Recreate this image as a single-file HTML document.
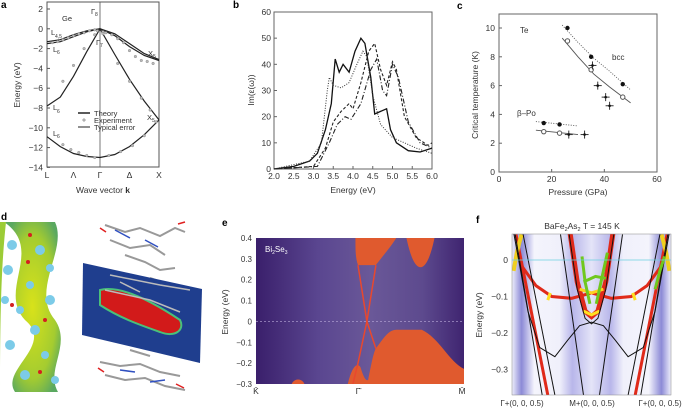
<!DOCTYPE html>
<html><head><meta charset="utf-8"><style>
html,body{margin:0;padding:0;background:#fff}
svg{display:block;font-family:"Liberation Sans",sans-serif}
</style></head><body>
<svg id="s" width="685" height="409" viewBox="0 0 685 409">
<defs>
<linearGradient id="ebg" x1="0" x2="1" y1="0" y2="0">
<stop offset="0" stop-color="#3a1f6b"/><stop offset="0.3" stop-color="#5a4690"/><stop offset="0.55" stop-color="#6a5898"/><stop offset="0.8" stop-color="#5d4a8e"/><stop offset="1" stop-color="#3f2470"/></linearGradient>
<linearGradient id="fbg" x1="0" x2="1" y1="0" y2="0">
<stop offset="0" stop-color="#eeeefb"/><stop offset="0.06" stop-color="#8c8ad6"/><stop offset="0.14" stop-color="#f4f4fc"/><stop offset="0.3" stop-color="#f0f0fb"/><stop offset="0.38" stop-color="#b8b6ea"/><stop offset="0.5" stop-color="#e4e4f8"/><stop offset="0.62" stop-color="#b8b6ea"/><stop offset="0.7" stop-color="#f0f0fb"/><stop offset="0.86" stop-color="#f4f4fc"/><stop offset="0.94" stop-color="#8c8ad6"/><stop offset="1" stop-color="#eeeefb"/></linearGradient>
<radialGradient id="hel" cx="0.5" cy="0.5" r="0.6"><stop offset="0" stop-color="#d8e21a"/><stop offset="0.7" stop-color="#a4cc30"/><stop offset="1" stop-color="#5aa860"/></radialGradient>
<clipPath id="ce"><rect x="256" y="238" width="208" height="146"/></clipPath>
<clipPath id="cf"><rect x="512" y="234" width="159" height="161"/></clipPath>
</defs>
<g id="pa"></g>
<g id="pb"></g>
<g id="pc"></g>
<g id="pd">
<text x="1" y="220" font-size="10" font-weight="bold">d</text>
<path d="M4,222 C45,250 -3,290 25,320 C55,345 0,370 15,392 L58,392 C45,370 72,345 55,320 C30,290 68,250 55,222 Z" fill="url(#hel)"/>
<path d="M0,222 L6,222 C2,260 0,300 0,392Z" fill="#9ccc36"/>
<g fill="#7ccbe8">
<circle cx="12" cy="245" r="5"/><circle cx="40" cy="250" r="5"/><circle cx="8" cy="270" r="5"/><circle cx="30" cy="285" r="4"/><circle cx="50" cy="300" r="5"/><circle cx="20" cy="310" r="4"/><circle cx="35" cy="330" r="5"/><circle cx="10" cy="345" r="5"/><circle cx="45" cy="355" r="4"/><circle cx="25" cy="375" r="5"/><circle cx="50" cy="268" r="4"/><circle cx="5" cy="300" r="4"/><circle cx="55" cy="380" r="4"/></g>
<g fill="#d42020"><circle cx="28" cy="262" r="2"/><circle cx="12" cy="305" r="2"/><circle cx="40" cy="372" r="2"/><circle cx="30" cy="235" r="2"/><circle cx="45" cy="320" r="2"/></g>
<g stroke="#999" stroke-width="2" fill="none">
<path d="M105,225 L125,232 L140,228 L160,236 L175,228 L185,232 M110,240 L130,248 L150,245 L165,255 M125,255 L145,262 L160,270 L175,268 M150,278 L170,285"/>
<path d="M100,362 L120,366 L140,364 L160,372 L180,376 M105,375 L125,380 L145,378 L165,386 L185,390 M130,350 L150,356"/></g>
<g stroke="#3050c0" stroke-width="1.5" fill="none"><path d="M115,230 L130,238 M145,240 L158,247 M120,370 L135,372 M150,382 L165,380"/></g>
<g stroke="#e02020" stroke-width="1.5" fill="none"><path d="M100,228 L106,232 M178,224 L185,222 M98,368 L104,372 M176,384 L184,388"/></g>
<polygon points="83,263 202,289 200,363 82,335" fill="#1f3e8e"/>
<path d="M100,290 C120,285 150,300 180,320 C185,330 175,338 160,332 C140,325 120,318 100,305 Z" fill="#d21a1a" stroke="#4ac07a" stroke-width="2"/>
<g stroke="#bbb" stroke-width="1.5" fill="none"><path d="M110,275 L160,285 L190,290 M105,290 L150,300 L180,312 M120,282 L140,292"/></g>
</g>
<g id="pe"></g>
<g id="pf"></g>
</svg>
<script>
const NS="http://www.w3.org/2000/svg";
function mk(p,t,a,txt){const e=document.createElementNS(NS,t);for(const k in a)e.setAttribute(k,a[k]);if(txt!==undefined)e.textContent=txt;p.appendChild(e);return e;}
function pth(xs,ys,fx,fy){return xs.map((x,i)=>(i?'L':'M')+fx(x).toFixed(1)+','+fy(ys[i]).toFixed(1)).join('');}
// ---------- Panel a data ----------
const aK=[0,0.25,0.5,0.75,1,1.25,1.5,1.75,2];
const aBand1=[-10.9,-11.9,-12.6,-12.9,-13,-12.7,-11.9,-10.7,-9.2];
const aBand2=[-7.8,-6.9,-4.8,-2.3,0,-2.6,-5.1,-7.3,-9.2];
const aBand3=[-1.5,-1.3,-0.8,-0.3,0,-0.7,-1.8,-2.7,-3.2];
const aBand4=[-1.3,-1.1,-0.6,-0.2,0,-0.5,-1.5,-2.5,-3.1];
const aExpK=[0.1,0.2,0.3,0.4,0.5,0.6,0.7,0.8,0.9,0.95,1.05,1.1,1.2,1.3,1.4,1.5,1.6,1.7,1.8,1.9,0.3,0.45,0.6,0.75,0.9,1.15,1.35,1.55,1.75,1.95,0.3,0.5,0.7,0.9,1.05,1.3,1.5,1.7,1.85];
const aExpE=[-1.4,-1.3,-1.1,-0.9,-0.7,-0.5,-0.4,-0.2,-0.1,-0.2,-0.3,-0.4,-0.6,-1.0,-1.4,-2.2,-2.8,-3.2,-3.3,-3.5,-11.7,-12.2,-12.5,-12.8,-13,-12.8,-12.4,-11.8,-10.8,-9.4,-5.3,-3.7,-2.0,-0.6,-0.5,-3.5,-5.3,-7.0,-8.2];
const aTicks=[2,0,-2,-4,-6,-8,-10,-12,-14];
const aKlab=['L','Λ','Γ','Δ','X'];
(function(){const g=document.getElementById('pa');
const X=k=>k<=1?47+53*k:100+59*(k-1), Y=e=>9+(2-e)*9.9;
mk(g,'text',{x:1,y:8,'font-size':10,'font-weight':'bold'},'a');
mk(g,'rect',{x:47,y:2,width:112,height:165,fill:'none',stroke:'#555'});
mk(g,'line',{x1:100,x2:100,y1:2,y2:167,stroke:'#555','stroke-width':0.8});
aTicks.forEach(t=>{const l=mk(g,'text',{x:43,y:Y(t)+3,'font-size':8.5,'text-anchor':'end',fill:'#333'},t<0?'−'+(-t):t);


mk(g,'line',{x1:47,x2:50,y1:Y(t),y2:Y(t),stroke:'#555'});});
aKlab.forEach((s,i)=>{mk(g,'text',{x:X(i*0.5),y:178,'font-size':8.5,'text-anchor':'middle',fill:'#333'},s);});
const xt=mk(g,'text',{x:103,y:193,'font-size':8.5,'text-anchor':'middle',fill:'#333'},'Wave vector ');
mk(xt,'tspan',{'font-weight':'bold'},'k');


const yt=mk(g,'text',{x:0,y:0,'font-size':8.5,'text-anchor':'middle',fill:'#333',transform:'translate(20,85) rotate(-90)'},'Energy (eV)');


[aBand1,aBand2,aBand3,aBand4].forEach((b,i)=>{const p=mk(g,'path',{d:pth(aK,b,X,Y),fill:'none',stroke:'#222','stroke-width':1.2});

});
aExpK.forEach((k,i)=>{const c=mk(g,'circle',{cx:X(k),cy:Y(aExpE[i]),r:1.3,fill:'#bbb',stroke:'#777','stroke-width':0.4});

});
[['Ge',62,21,7.5],['Γ',91,14,7.5],['8',95,16,5],['L',51,35,7.5],['4,5',55,38,5],['Γ',96,45,7.5],['7',100,47,5],['L',53,52,7.5],['6',57,54,5],['X',148,56,7.5],['5',153,58,5],['L',53,110,7.5],['6',57,113,5],['X',147,120,7.5],['5',152,122,5],['L',53,136,7.5],['6',57,138,5]].forEach(t=>mk(g,'text',{x:t[1],y:t[2],'font-size':t[3],fill:'#333'},t[0]));
mk(g,'line',{x1:78,x2:90,y1:113,y2:113,stroke:'#222','stroke-width':1.5});
mk(g,'text',{x:94,y:116,'font-size':7.5,fill:'#333'},'Theory');
mk(g,'circle',{cx:84,cy:120,r:1.3,fill:'#bbb',stroke:'#777','stroke-width':0.4});
mk(g,'text',{x:94,y:123,'font-size':7.5,fill:'#333'},'Experiment');
mk(g,'line',{x1:78,x2:90,y1:127,y2:127,stroke:'#222'});
mk(g,'text',{x:94,y:130,'font-size':7.5,fill:'#333'},'Typical error');
})();
// ---------- Panel b data ----------
const bSolidX=[2.0,2.5,2.9,3.1,3.3,3.45,3.55,3.65,3.75,3.9,4.05,4.2,4.3,4.45,4.55,4.7,4.85,4.95,5.1,5.4,5.7,6.0];
const bSolidY=[0,1,3,6,15,25,42,37,40,37,45,50,48,35,21,22,23,15,10,7,6.5,8];
const bDotX=[2.0,2.9,3.2,3.35,3.4,3.5,3.7,3.9,4.1,4.25,4.35,4.5,4.7,5.0,5.3,5.6,6.0];
const bDotY=[0,3,10,30,35,32,31,33,40,45,43,28,17,12,10,8,6];
const bDashX=[2.0,3.0,3.3,3.5,3.7,3.9,4.0,4.2,4.4,4.55,4.7,4.85,5.0,5.1,5.3,5.6,5.9,6.0];
const bDashY=[0,1,8,18,22,25,23,33,45,48,38,32,41,38,20,12,9,10];
const bDDX=[2.0,3.1,3.4,3.6,3.8,3.95,4.2,4.45,4.6,4.75,4.85,5.0,5.15,5.4,5.7,6.0];
const bDDY=[0,1,10,17,20,19,25,38,42,30,28,40,35,18,10,8];
const bYT=[0,10,20,30,40,50,60];
const bXT=['2.0','2.5','3.0','3.5','4.0','4.5','5.0','5.5','6.0'];
(function(){const g=document.getElementById('pb');
const X=e=>274+(e-2)*39.5, Y=v=>169-v*2.617;
mk(g,'text',{x:233,y:8,'font-size':10,'font-weight':'bold'},'b');
mk(g,'rect',{x:274,y:12,width:158,height:157,fill:'none',stroke:'#666'});
bYT.forEach(t=>{mk(g,'text',{x:271,y:Y(t)+3,'font-size':8.5,'text-anchor':'end',fill:'#333'},t);mk(g,'line',{x1:274,x2:277,y1:Y(t),y2:Y(t),stroke:'#666'});});
bXT.forEach(t=>{mk(g,'text',{x:X(+t),y:179,'font-size':8.5,'text-anchor':'middle',fill:'#333'},t);mk(g,'line',{x1:X(+t),x2:X(+t),y1:169,y2:166,stroke:'#666'});});
const xt=mk(g,'text',{x:353,y:193,'font-size':8.5,'text-anchor':'middle',fill:'#333'},'Energy (eV)');


const yt=mk(g,'text',{x:0,y:0,'font-size':8.5,'text-anchor':'middle',fill:'#333',transform:'translate(254,90) rotate(-90)'},'Im(ε(ω))');


const S=[[bSolidX,bSolidY,'',1.3,'#111'],[bDotX,bDotY,'1,1.5',1,'#333'],[bDashX,bDashY,'3,2',1.1,'#222'],[bDDX,bDDY,'5,2,1,2',1.1,'#222']];
S.forEach((s,i)=>{const p=mk(g,'path',{d:pth(s[0],s[1],X,Y),fill:'none',stroke:s[4],'stroke-width':s[3],'stroke-dasharray':s[2]});

});
})();
// ---------- Panel c data ----------
const cFilledP=[26,35,47,17,23];
const cFilledT=[10,8,6.1,3.4,3.3];
const cOpenP=[26,35,47,17,23];
const cOpenT=[9.1,7.1,5.2,2.8,2.7];
const cErrP=[35.5,37.5,40.5,42,26.5,32.5];
const cErrT=[7.4,6.0,5.2,4.6,2.6,2.6];
const cFitBccDotP=[24,30,36,42,50];const cFitBccDotT=[10.2,9.0,7.9,7.0,5.7];
const cFitBccP=[24,30,36,42,50];const cFitBccT=[9.3,8.0,6.8,5.9,4.8];
const cFitBpDotP=[14,30];const cFitBpDotT=[3.5,3.2];
const cFitBpP=[14,30];const cFitBpT=[2.9,2.6];
const cXT=[0,20,40,60];const cYT=[0,2,4,6,8,10];
(function(){const g=document.getElementById('pc');
const X=p=>499+p*2.633, Y=t=>172-t*14.4;
mk(g,'text',{x:457,y:9,'font-size':10,'font-weight':'bold'},'c');
mk(g,'rect',{x:499,y:14,width:158,height:158,fill:'none',stroke:'#666'});
cYT.forEach(t=>{mk(g,'text',{x:495,y:Y(t)+3,'font-size':8.5,'text-anchor':'end',fill:'#333'},t);mk(g,'line',{x1:499,x2:502,y1:Y(t),y2:Y(t),stroke:'#666'});});
cXT.forEach(t=>{mk(g,'text',{x:X(t),y:182,'font-size':8.5,'text-anchor':'middle',fill:'#333'},t);mk(g,'line',{x1:X(t),x2:X(t),y1:172,y2:169,stroke:'#666'});});
const xt=mk(g,'text',{x:578,y:195,'font-size':8.5,'text-anchor':'middle',fill:'#333'},'Pressure (GPa)');


const yt=mk(g,'text',{x:0,y:0,'font-size':8.5,'text-anchor':'middle',fill:'#333',transform:'translate(478,95) rotate(-90)'},'Critical temperature (K)');


mk(g,'text',{x:520,y:33,'font-size':8,fill:'#333'},'Te');
mk(g,'text',{x:612,y:60,'font-size':8,fill:'#333'},'bcc');
mk(g,'text',{x:517,y:116,'font-size':8,fill:'#333'},'β–Po');
[[cFitBccDotP,cFitBccDotT,'1,1.5'],[cFitBccP,cFitBccT,''],[cFitBpDotP,cFitBpDotT,'1,1.5'],[cFitBpP,cFitBpT,'']].forEach(f=>{const p=mk(g,'path',{d:pth(f[0],f[1],X,Y),fill:'none',stroke:'#555','stroke-width':0.9,'stroke-dasharray':f[2]});

});
cFilledP.forEach((p,i)=>{const c=mk(g,'circle',{cx:X(p),cy:Y(cFilledT[i]),r:2.2,fill:'#111'});

});
cOpenP.forEach((p,i)=>{const c=mk(g,'circle',{cx:X(p),cy:Y(cOpenT[i]),r:2.2,fill:'#fff',stroke:'#555'});

});
cErrP.forEach((p,i)=>{const x=X(p),y=Y(cErrT[i]);mk(g,'line',{x1:x-4,x2:x+4,y1:y,y2:y,stroke:'#333'});mk(g,'line',{x1:x,x2:x,y1:y-4,y2:y+4,stroke:'#333'});
const c=mk(g,'circle',{cx:x,cy:y,r:1.3,fill:'#111'});

});
})();
// ---------- Panel e data ----------
const eYT=['0.4','0.3','0.2','0.1','0','−0.1','−0.2','−0.3'];
const eYV=[0.4,0.3,0.2,0.1,0,-0.1,-0.2,-0.3];
const eSurfK=[0,0.035,0.07];
const eSurfE1=[0.27,0,-0.13];
const eSurfK2=[0.07,0.035,0.0,-0.02];
const eSurfE2=[0.27,0,-0.2,-0.3];
(function(){const g=document.getElementById('pe');
const X=k=>358+k*255, Y=e=>238+(0.4-e)*208.6;
mk(g,'text',{x:222,y:226,'font-size':10,'font-weight':'bold'},'e');
mk(g,'rect',{x:256,y:238,width:208,height:146,fill:'url(#ebg)'});
const c=mk(g,'g',{'clip-path':'url(#ce)'});
const o='#e05a2e';
mk(c,'path',{d:`M${X(-0.01)},238 L${X(0.15)},238 C${X(0.12)},250 ${X(0.09)},258 ${X(0.07)},${Y(0.27)} L${X(0)},${Y(0.27)} C${X(-0.01)},258 ${X(-0.01)},250 ${X(-0.01)},238Z`,fill:o});
mk(c,'path',{d:`M${X(0.19)},238 L${X(0.3)},238 C${X(0.28)},262 ${X(0.26)},${Y(0.26)} ${X(0.245)},${Y(0.26)} C${X(0.23)},${Y(0.26)} ${X(0.21)},262 ${X(0.19)},238Z`,fill:o});
mk(c,'path',{d:`M${X(-0.04)},384 C${X(-0.02)},${Y(-0.2)} ${X(0)},${Y(-0.2)} ${X(0.01)},${Y(-0.22)} C${X(0.02)},${Y(-0.26)} ${X(0.03)},${Y(-0.29)} ${X(0.04)},${Y(-0.28)} C${X(0.05)},${Y(-0.22)} ${X(0.06)},${Y(-0.15)} ${X(0.07)},${Y(-0.13)} C${X(0.1)},${Y(-0.08)} ${X(0.12)},${Y(-0.04)} ${X(0.15)},${Y(-0.04)} L${X(0.25)},${Y(-0.04)} C${X(0.32)},${Y(-0.08)} ${X(0.36)},${Y(-0.2)} ${X(0.42)},${Y(-0.23)} L464,384Z`,fill:o});
mk(c,'path',{d:`M${X(-0.26)},384 C${X(-0.25)},378 ${X(-0.22)},378 ${X(-0.21)},384Z`,fill:o});
[[eSurfK,eSurfE1],[eSurfK2,eSurfE2]].forEach(s=>{const p=mk(c,'path',{d:pth(s[0],s[1],X,Y),fill:'none',stroke:'#e8482e','stroke-width':1.5});

});
mk(g,'line',{x1:256,x2:464,y1:Y(0),y2:Y(0),stroke:'#b8a8d8','stroke-width':0.6,'stroke-dasharray':'2,2'});
eYV.forEach((v,i)=>mk(g,'text',{x:252,y:Y(v)+3,'font-size':8,'text-anchor':'end',fill:'#333'},eYT[i]));
const lab=mk(g,'text',{x:265,y:252,'font-size':8,fill:'#fff'},'Bi');
mk(lab,'tspan',{'font-size':5,dy:2},'2');
mk(lab,'tspan',{'font-size':8,dy:-2},'Se');
mk(lab,'tspan',{'font-size':5,dy:2},'3');
[['K̄',256],['Γ̄',358],['M̄',462]].forEach(t=>mk(g,'text',{x:t[1],y:394,'font-size':8.5,'text-anchor':'middle',fill:'#333'},t[0]));
const yt=mk(g,'text',{x:0,y:0,'font-size':8.5,'text-anchor':'middle',fill:'#333',transform:'translate(228,312) rotate(-90)'},'Energy (eV)');


})();
// ---------- Panel f data ----------
const fYT=['0','−0.1','−0.2','−0.3'];const fYV=[0,-0.1,-0.2,-0.3];
const fWK=[0,0.1,0.2,0.35,0.54,0.7,0.85,1,1.15,1.3,1.46,1.65,1.8,1.9,2];
const fWE=[0.1,-0.02,-0.14,-0.24,-0.265,-0.22,-0.18,-0.17,-0.18,-0.22,-0.265,-0.24,-0.14,-0.02,0.1];
const fEdgeK1=[0.04,0.38];const fEdgeK2=[0.14,0.54];const fEdgeE=[0.07,-0.37];
const fMK=[0.61,0.9];const fME=[0.07,-0.37];
const fEK=[0.72,0.82,0.92,1,1.08,1.18,1.28];const fEE=[0.07,-0.08,-0.16,-0.175,-0.16,-0.08,0.07];
const fRedK=[0.1,0.3,0.5,0.75,1,1.25,1.5,1.7,1.9];const fRedE=[-0.01,-0.07,-0.1,-0.105,-0.09,-0.105,-0.1,-0.07,-0.01];
(function(){const g=document.getElementById('pf');
const X=k=>512+k*79.5, Y=e=>260-e*365;
mk(g,'text',{x:476,y:223,'font-size':10,'font-weight':'bold'},'f');
const tt=mk(g,'text',{x:582,y:229,'font-size':8.5,'text-anchor':'middle',fill:'#333'},'BaFe');
mk(tt,'tspan',{'font-size':5.5,dy:2},'2');mk(tt,'tspan',{dy:-2},'As');mk(tt,'tspan',{'font-size':5.5,dy:2},'2');mk(tt,'tspan',{dy:-2},' T = 145 K');
mk(g,'rect',{x:512,y:234,width:159,height:161,fill:'url(#fbg)'});
const c=mk(g,'g',{'clip-path':'url(#cf)'});
const red=(xs,ys,w,col)=>mk(c,'path',{d:pth(xs,ys,X,Y),fill:'none',stroke:col||'#e02a1a','stroke-width':w});
red(fRedK,fRedE,3);
red([0.05,0.45],[0.07,-0.37],3);red([1.95,1.55],[0.07,-0.37],3);
red([0.12,0.06,0.02],[0.07,0.02,-0.03],4,'#f0d020');red([1.88,1.94,1.98],[0.07,0.02,-0.03],4,'#f0d020');
red(fEK.map(k=>k),fEE.map(e=>e+0.02),5);
red([0.9,1,1.1],[-0.14,-0.15,-0.14],3,'#ffe020');red([0.85,1,1.15],[-0.08,-0.09,-0.08],3,'#ffd020');
red([0.48,0.45],[-0.09,-0.11],3,'#ffe020');red([1.52,1.55],[-0.09,-0.11],3,'#ffe020');
const blk=(xs,ys,n)=>{const p=mk(c,'path',{d:pth(xs,ys,X,Y),fill:'none',stroke:'#111','stroke-width':1});

};
blk(fWK,fWE,'band-w');
blk(fEdgeK1,fEdgeE,'hole-band');blk(fEdgeK2,fEdgeE,'hole-band');
blk(fEdgeK1.map(k=>2-k),fEdgeE,'hole-band');blk(fEdgeK2.map(k=>2-k),fEdgeE,'hole-band');
blk(fMK,fME,'electron-band');blk(fMK.map(k=>2-k),fME,'electron-band');
blk(fEK,fEE,'electron-band');
const gr=(xs,ys)=>mk(c,'path',{d:pth(xs,ys,X,Y),fill:'none',stroke:'#70c81e','stroke-width':3});
gr([0.88,0.92,0.98],[0.01,-0.06,-0.12]);gr([1.2,1.12,1.06],[0.02,-0.06,-0.12]);gr([0.9,1.05,1.18],[-0.06,-0.045,-0.05]);gr([1.8,1.86,1.92],[-0.08,-0.03,0.01]);
mk(g,'rect',{x:512,y:234,width:159,height:161,fill:'none',stroke:'#888','stroke-width':0.5});
mk(g,'line',{x1:512,x2:671,y1:Y(0),y2:Y(0),stroke:'#6cd0e0','stroke-width':0.8});
fYV.forEach((v,i)=>mk(g,'text',{x:508,y:Y(v)+3,'font-size':8.5,'text-anchor':'end',fill:'#333'},fYT[i]));
[['Γ+(0, 0, 0.5)',522],['M+(0, 0, 0.5)',592],['Γ+(0, 0, 0.5)',660]].forEach(t=>mk(g,'text',{x:t[1],y:406,'font-size':8,'text-anchor':'middle',fill:'#333'},t[0]));
const yt=mk(g,'text',{x:0,y:0,'font-size':8.5,'text-anchor':'middle',fill:'#333',transform:'translate(482,315) rotate(-90)'},'Energy (eV)');


})();
</script>
</body></html>
